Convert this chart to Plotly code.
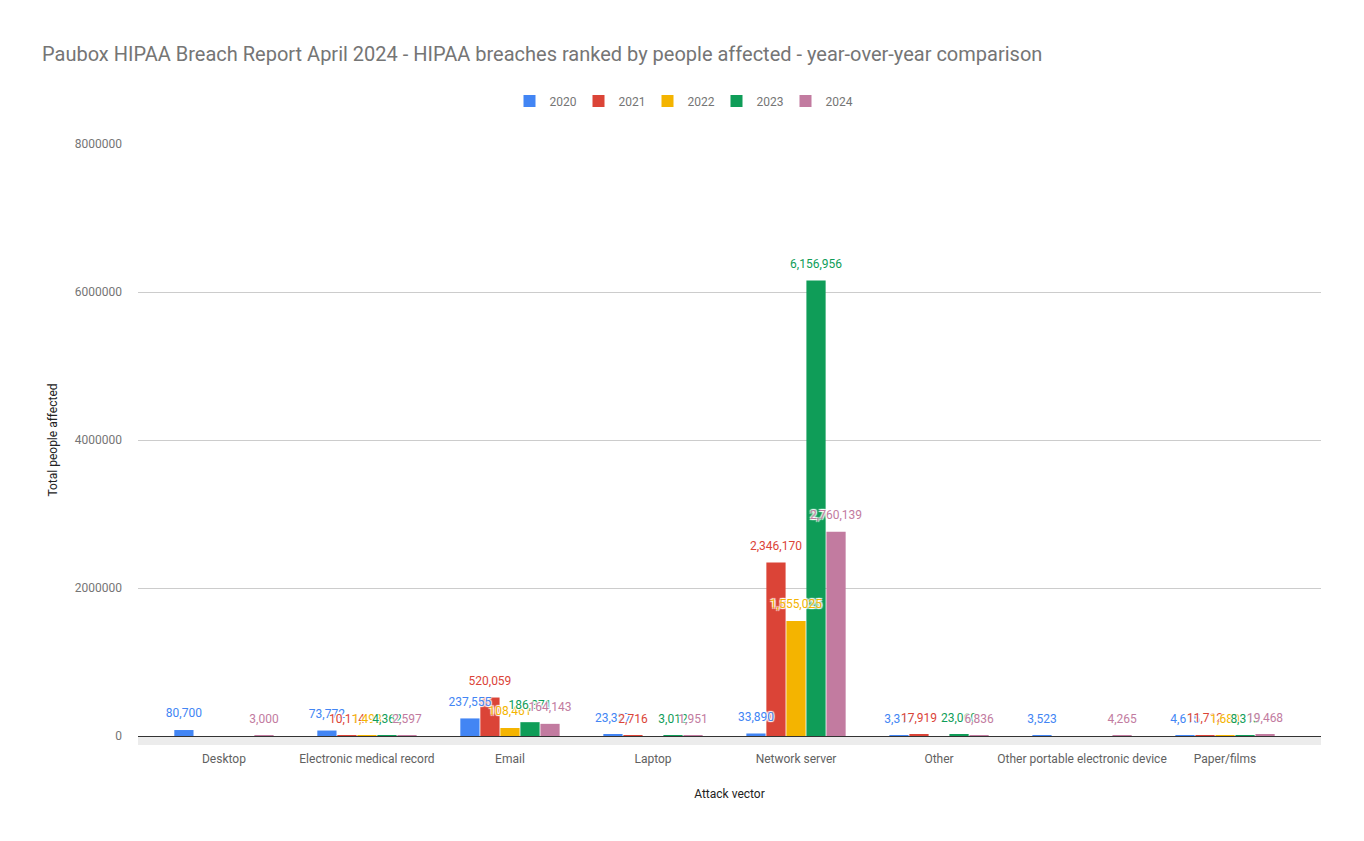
import plotly.graph_objects as go

categories = ["Desktop", "Electronic medical record", "Email", "Laptop", "Network server",
              "Other", "Other portable electronic device", "Paper/films"]
years = ["2020", "2021", "2022", "2023", "2024"]
v2020 = [80700, 73772, 237555, 23327, 33890, 3317, 3523, 4615]
v2021 = [None, 10114, 520059, 2716, 2346170, 17919, None, 11712]
v2022 = [None, 1498, 108461, None, 1555025, None, None, 1680]
v2023 = [None, 4362, 186871, 3012, 6156956, 23060, None, 8313]
v2024 = [3000, 2597, 164143, 1951, 2760139, 6836, 4265, 19468]
series = [v2020, v2021, v2022, v2023, v2024]
colors = ["#4285F4", "#DB4437", "#F4B400", "#0F9D58", "#C27BA0"]
yticks = [0, 2000000, 4000000, 6000000, 8000000]

fig = go.Figure()
for name, vals, col in zip(years, series, colors):
    fig.add_trace(go.Bar(
        x=categories, y=vals, name=name,
        marker=dict(color=col, line=dict(width=0)),
        hoverinfo="x+y+name",
    ))

halo = "1px 1px 1px white, -1px -1px 1px white, 1px -1px 1px white, -1px 1px 1px white"
for name, vals, col in zip(years, series, colors):
    fig.add_trace(go.Scatter(
        x=categories, y=vals, mode="markers+text", showlegend=False, hoverinfo="skip",
        marker=dict(size=14, color="rgba(0,0,0,0)"),
        text=[f"{v:,}" if v is not None else "" for v in vals],
        textposition="top center", cliponaxis=False,
        textfont=dict(color=col, size=12, family="Roboto", shadow=halo),
    ))

fig.add_shape(type="rect", xref="paper", yref="paper", x0=0, x1=1, y0=-9/592, y1=0,
              fillcolor="#ececec", line=dict(width=0), layer="below")

fig.update_layout(
    width=1364, height=841,
    margin=dict(l=138, r=43, t=144, b=105),
    paper_bgcolor="white", plot_bgcolor="white",
    font=dict(family="Roboto", color="#757575", size=12),
    title=dict(text="Paubox HIPAA Breach Report April 2024 - HIPAA breaches ranked by people affected - year-over-year comparison",
               x=42/1364, xanchor="left", y=1-54/841, yanchor="middle",
               font=dict(size=20, color="#757575", family="Roboto")),
    barmode="group", bargap=0.3, bargroupgap=0.04,
    scattermode="group", scattergap=0.3,
    legend=dict(orientation="h", xref="container", x=0.5, xanchor="center",
                yref="container", y=1-101/841, yanchor="middle",
                font=dict(size=12, color="#757575"), itemwidth=30,
                entrywidth=24, traceorder="normal"),
    xaxis=dict(range=[-0.601, 7.671], showgrid=False, ticks="",
               tickfont=dict(size=12, color="#616161"), ticklabelstandoff=14,
               title=dict(text="Attack vector", font=dict(size=12, color="#222222"), standoff=24)),
    yaxis=dict(range=[0, 8000000], tickvals=yticks, ticktext=[str(t) for t in yticks],
               gridcolor="#cccccc", zeroline=True, zerolinecolor="#333333", zerolinewidth=1,
               tickfont=dict(size=12, color="#757575"), ticklabelstandoff=15,
               title=dict(text="Total people affected", font=dict(size=12, color="#222222"), standoff=14)),
)

fig.write_html("out.html")
